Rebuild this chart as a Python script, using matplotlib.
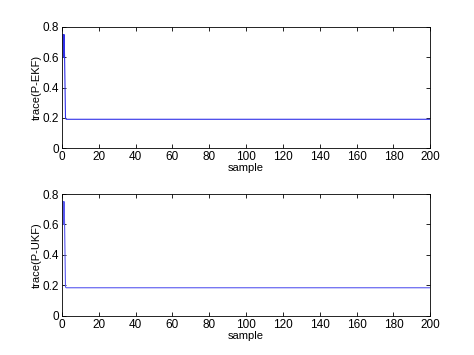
import matplotlib
matplotlib.use("Agg")
import matplotlib.pyplot as plt

plt.rcParams['font.family'] = ['Liberation Sans', 'DejaVu Sans']

# initial transient
head_x = [0.5, 0.8, 1.1, 1.4, 1.7, 1.9, 2.3]
ekf_head = [0.75, 0.60, 0.75, 0.60, 0.33, 0.20, 0.19]
ukf_head = [0.75, 0.60, 0.75, 0.60, 0.33, 0.19, 0.185]
# steady state samples
tail_x = list(range(3, 201))
ekf_tail = [0.19] * len(tail_x)
ukf_tail = [0.185] * len(tail_x)

xticks = list(range(0, 201, 20))
yticks = [0, 0.2, 0.4, 0.6, 0.8]
ylabels = ["trace(P-EKF)", "trace(P-UKF)"]
xlabel = "sample"

fig = plt.figure(figsize=(4.74, 3.55), dpi=100)
fig.patch.set_facecolor('white')
positions = [[0.1308, 0.583, 0.777, 0.341], [0.1308, 0.110, 0.777, 0.3435]]
series = [(ekf_head, ekf_tail), (ukf_head, ukf_tail)]
colors = ['#3030e8', '#5858f0']
for pos, (h, t), lab, c in zip(positions, series, ylabels, colors):
    ax = fig.add_axes(pos)
    ax.plot(head_x + tail_x, h + t, color=c, lw=0.8)
    ax.set_xlim(0, 200)
    ax.set_ylim(0, 0.8)
    ax.set_xticks(xticks)
    ax.set_yticks(yticks)
    ax.set_yticklabels(["0", "0.2", "0.4", "0.6", "0.8"])
    ax.tick_params(direction='in', top=True, right=True, length=3, width=0.6,
                   labelsize=8.5, pad=2)
    for s in ax.spines.values():
        s.set_linewidth(0.6)
    ax.set_ylabel(lab, fontsize=8, labelpad=1)
    ax.set_xlabel(xlabel, fontsize=8, labelpad=0)

fig.savefig("out.png", dpi=100)
